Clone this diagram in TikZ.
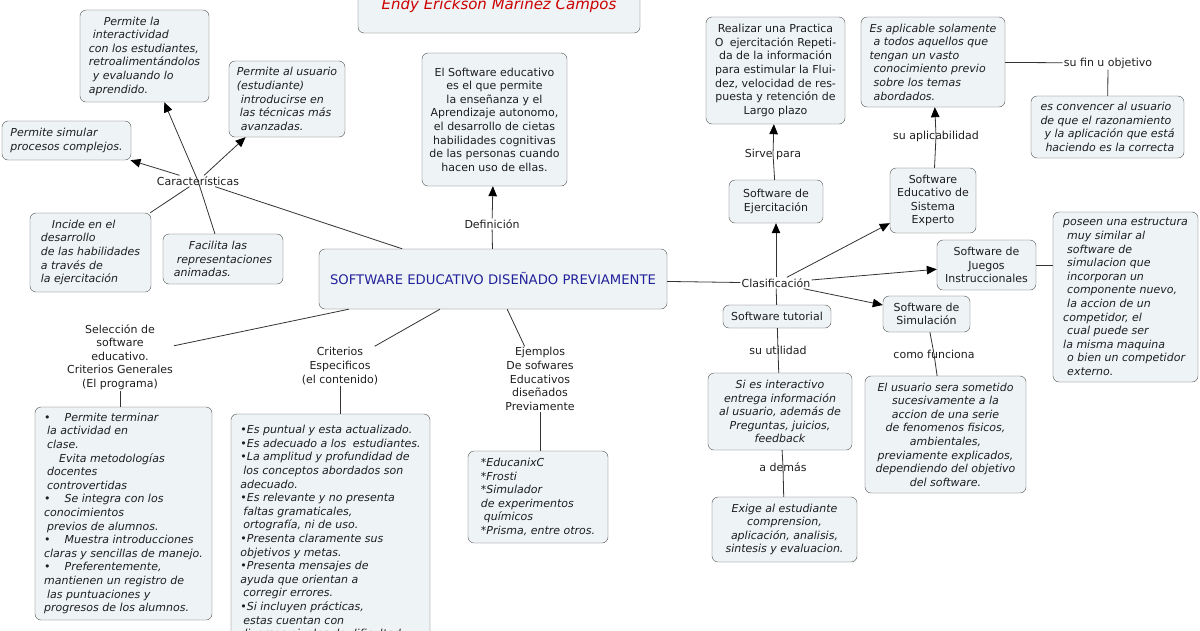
\documentclass[tikz,border=0pt]{standalone}
\usepackage{fontspec}
\setmainfont{DejaVu Sans}
\usepackage{xcolor}
\usetikzlibrary{arrows.meta}
\definecolor{boxfill}{HTML}{EEF3F6}
\definecolor{boxline}{HTML}{505050}
\definecolor{linkline}{HTML}{333333}
\definecolor{inktext}{HTML}{1E1E1E}
\definecolor{titlered}{HTML}{CC0000}
\definecolor{mainblue}{HTML}{22229A}
\newcommand{\cmfont}{\fontsize{11}{13.6}\selectfont}

\begin{document}
\begin{tikzpicture}[x=1pt, y=-1pt,
  concept/.style={draw=boxline, fill=boxfill, rounded corners=6pt, inner sep=3pt, text=inktext, font=\cmfont},
  italbox/.style={concept, font=\cmfont\itshape},
  boxsize/.style args={#1/#2}{minimum width=#1pt, minimum height=#2pt},
  phrase/.style={text=inktext, font=\cmfont, inner sep=1pt, align=center},
  link/.style={draw=linkline, line width=0.8pt},
  arrow/.style={link, -{Triangle[length=10pt,width=8.5pt,color=black]}}]
 \useasboundingbox (0,0) rectangle (1200,630);
 \clip (0,0) rectangle (1200,630);

 \node[concept, boxsize=282/56, font=\fontsize{15}{18}\selectfont\itshape, text=titlered] (autor) at (499,5) {Endy Erickson Marinez Campos};
 \node[concept, boxsize=348/60, font=\fontsize{13.2}{16}\selectfont, text=mainblue] (main) at (493,279) {SOFTWARE EDUCATIVO DISEÑADO PREVIAMENTE};

 \node[italbox, boxsize=129/92, align=left] (interact) at (144.5,56) {\hspace*{15pt}Permite la\\ \hspace*{4pt}interactividad\\ con los estudiantes,\\ retroalimentándolos\\ \hspace*{4pt}y evaluando lo\\ aprendido.};
 \node[italbox, boxsize=116/76, align=left] (usuario) at (287,99) {Permite al usuario\\ (estudiante)\\ \hspace*{4pt}introducirse en\\ \hspace*{3pt}las técnicas más\\ \hspace*{4pt}avanzadas.};
 \node[italbox, boxsize=129/39, align=left] (simular) at (66.5,140.5) {Permite simular\\ procesos complejos.};
 \node[italbox, boxsize=121/79, align=left] (incide) at (90.5,252.5) {\hspace*{11pt}Incide en el\\ desarrollo\\ de las habilidades\\ a través de\\ la ejercitación};
 \node[italbox, boxsize=120/50, align=left] (facilita) at (223,259) {\hspace*{15pt}Facilita las\\ \hspace*{3pt}representaciones\\ animadas.};
 \node[concept, boxsize=145/133, align=center] (definic) at (494.5,119.5) {El Software educativo\\ es el que permite\\ la enseñanza y el\\ Aprendizaje autonomo,\\ el desarrollo de cietas\\ habilidades cognitivas\\ de las personas cuando\\ hacen uso de ellas.};
 \node[italbox, boxsize=177/213, align=left] (generales) at (123.5,513.5) {•\hspace*{14pt}Permite terminar\\ \hspace*{3pt}la actividad en\\ \hspace*{3pt}clase.\\ \hspace*{15pt}Evita metodologías\\ \hspace*{3pt}docentes\\ \hspace*{3pt}controvertidas\\ •\hspace*{14pt}Se integra con los\\ conocimientos\\ \hspace*{3pt}previos de alumnos.\\ •\hspace*{14pt}Muestra introducciones\\ claras y sencillas de manejo.\\ •\hspace*{14pt}Preferentemente,\\ mantienen un registro de\\ \hspace*{3pt}las puntuaciones y\\ progresos de los alumnos.};
 \node[italbox, boxsize=199/235, align=left] (especbox) at (330.5,531.5) {•Es puntual y esta actualizado.\\ •Es adecuado a los\hspace{3pt} estudiantes.\\ •La amplitud y profundidad de\\ \hspace*{3pt}los conceptos abordados son\\ adecuado.\\ •Es relevante y no presenta\\ \hspace*{3pt}faltas gramaticales,\\ \hspace*{3pt}ortografía, ni de uso.\\ •Presenta claramente sus\\ objetivos y metas.\\ •Presenta mensajes de\\ ayuda que orientan a\\ \hspace*{3pt}corregir errores.\\ •Si incluyen prácticas,\\ \hspace*{3pt}estas cuentan con\\ diversos niveles de dificultad};
 \node[italbox, boxsize=140/92, align=left] (ejembox) at (538,497) {*EducanixC\\ *Frosti\\ *Simulador\\ de experimentos\\ \hspace*{3pt}químicos\\ *Prisma, entre otros.};

 \node[concept, boxsize=139/107, align=center] (practica) at (775.5,70.5) {Realizar una Practica\\ O\hspace{3pt} ejercitación Repeti-\\ da de la información\\ para estimular la Flui-\\ dez, velocidad de res-\\ puesta y retención de\\ Largo plazo};
 \node[concept, boxsize=94/43, align=center] (ejerc) at (776,201.5) {Software de\\ Ejercitación};
 \node[concept, boxsize=86/65, align=center] (experto) at (933,200.5) {Software\\ Educativo de\\ Sistema\\ Experto};
 \node[italbox, boxsize=144/90, align=left] (aplicable) at (933,62) {Es aplicable solamente\\ \hspace*{4pt}a todos aquellos que\\ tengan un vasto\\ \hspace*{4pt}conocimiento previo\\ \hspace*{4pt}sobre los temas\\ \hspace*{4pt}abordados.};
 \node[italbox, boxsize=153/62, align=left] (convencer) at (1107.5,127) {es convencer al usuario\\ de que el razonamiento\\ \hspace*{4pt}y la aplicación que está\\ \hspace*{5pt}haciendo es la correcta};
 \node[concept, boxsize=99/50, align=center] (juegos) at (986.5,265) {Software de\\ Juegos\\ Instruccionales};
 \node[italbox, boxsize=145/170, align=left] (poseen) at (1125.5,297) {poseen una estructura\\ \hspace*{4pt}muy similar al\\ \hspace*{4pt}software de\\ \hspace*{4pt}simulacion que\\ \hspace*{4pt}incorporan un\\ \hspace*{4pt}componente nuevo,\\ \hspace*{4pt}la accion de un\\ competidor, el\\ \hspace*{4pt}cual puede ser\\ la misma maquina\\ \hspace*{4pt}o bien un competidor\\ \hspace*{4pt}externo.};
 \node[concept, boxsize=87/36, align=center] (simulac) at (926.5,314) {Software de\\ Simulación};
 \node[italbox, boxsize=161/117, align=center] (usuariosim) at (945.5,434.5) {El usuario sera sometido\\ sucesivamente a la\\ accion de una serie\\ de fenomenos fisicos,\\ ambientales,\\ previamente explicados,\\ dependiendo del objetivo\\ del software.};
 \node[concept, boxsize=108/23, align=center] (tutorial) at (777,316.5) {Software tutorial};
 \node[italbox, boxsize=144/77, align=center] (interactivo) at (780,411.5) {Si es interactivo\\ entrega información\\ al usuario, además de\\ Preguntas, juicios,\\ feedback};
 \node[italbox, boxsize=145/65, align=center] (exige) at (784.5,529.5) {Exige al estudiante\\ comprension,\\ aplicación, analisis,\\ sintesis y evaluacion.};

 \node[phrase] (caract) at (198,181) {Características};
 \node[phrase] (defin) at (492,224) {Definición};
 \node[phrase] (selecc) at (120,357) {Selección de\\ software\\ educativo.\\ Criterios Generales\\ (El programa)};
 \node[phrase] (especif) at (340,366) {Criterios\\ Especificos\\ (el contenido)};
 \node[phrase] (ejempl) at (540,379) {Ejemplos\\ De sofwares\\ Educativos\\ diseñados\\ Previamente};
 \node[phrase] (clasif) at (776,283) {Clasificación};
 \node[phrase] (sirve) at (773,154) {Sirve para};
 \node[phrase] (aplicab) at (936,136) {su aplicabilidad};
 \node[phrase] (finobj) at (1108,63) {su fin u objetivo};
 \node[phrase] (funciona) at (934,354) {como funciona};
 \node[phrase] (utilidad) at (778,350) {su utilidad};
 \node[phrase] (ademas) at (783,467) {a demás};

 \draw[link] (main) -- (caract);
 \draw[arrow] (caract.center) -- (interact);
 \draw[link] (caract.center) -- (facilita);
 \draw[arrow] (caract) -- (simular);
 \draw[arrow] (caract) -- (usuario);
 \draw[link] (caract) -- (incide);
 \draw[link] (main) -- (defin);
 \draw[arrow] (defin) -- (definic);
 \draw[link] (main) -- (selecc);
 \draw[link] (selecc) -- (selecc |- generales.north);
 \draw[link] (main) -- (especif);
 \draw[link] (especif) -- (especif |- especbox.north);
 \draw[link] (main) -- (ejempl);
 \draw[link] (ejempl) -- (ejempl |- ejembox.north);
 \draw[link] (main) -- (clasif);
 \draw[arrow] (clasif) -- (ejerc);
 \draw[link] (clasif) -- (tutorial);
 \draw[arrow] (clasif) -- (experto);
 \draw[arrow] (clasif) -- (juegos);
 \draw[arrow] (clasif) -- (simulac);
 \draw[arrow] (ejerc) -- (sirve.center) -- (practica);
 \draw[arrow] (experto) -- (aplicab.center) -- (aplicable);
 \draw[link] (aplicable) -- (finobj);
 \draw[link] (finobj) -- (convencer);
 \draw[link] (juegos.east) -- (juegos.east -| poseen.west);
 \draw[link] (simulac) -- (funciona.center) -- (usuariosim);
 \draw[link] (tutorial) -- (utilidad.center) -- (interactivo);
 \draw[link] (interactivo) -- (ademas.center) -- (exige);
\end{tikzpicture}
\end{document}
